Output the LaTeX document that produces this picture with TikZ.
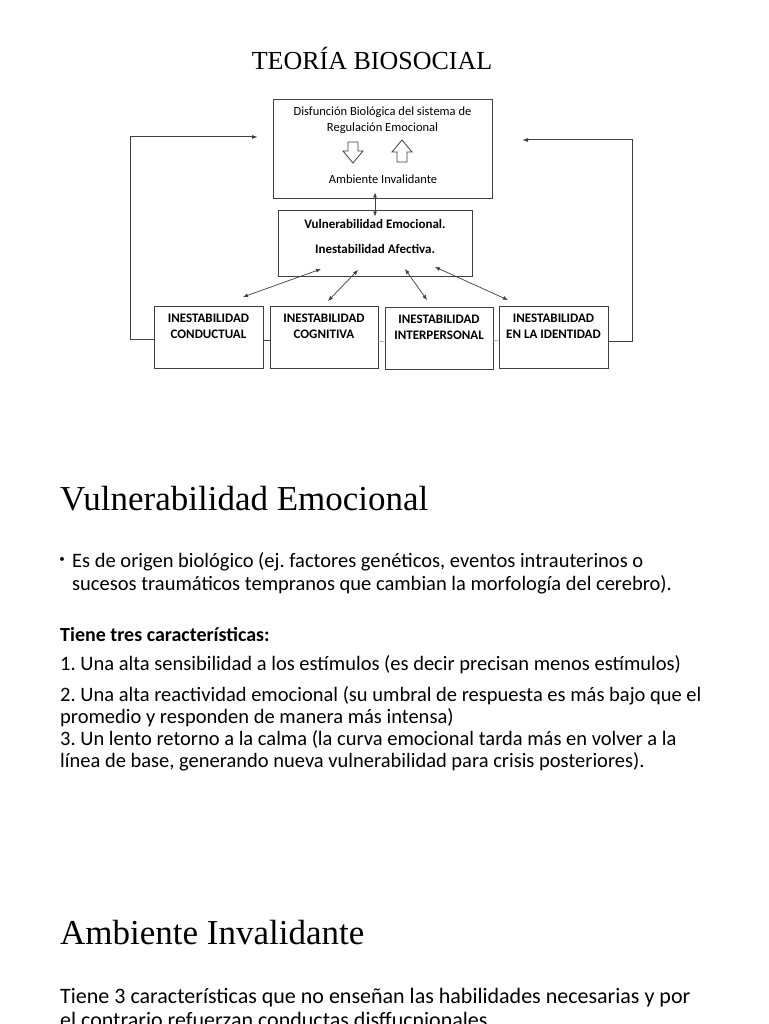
\documentclass[tikz,border=0pt]{standalone}
\usepackage{fontspec}
\setmainfont{Liberation Serif}
\newfontfamily\calibri{Carlito}
\usetikzlibrary{arrows.meta}
\definecolor{trazo}{HTML}{3F3F3F}
\definecolor{celeste}{HTML}{8DB4E2}
\tikzset{
  caja/.style={draw=trazo, line width=0.9pt, inner sep=0pt},
  rotulo/.style={font=\calibri\fontsize{12.5}{16}\selectfont, align=center, inner sep=0pt},
  negrita/.style={font=\calibri\bfseries\fontsize{13}{16}\selectfont, align=center, inner sep=0pt},
  doble/.style={trazo, line width=0.7pt, {Latex[length=5pt,width=4pt]}-{Latex[length=5pt,width=4pt]}},
  flecha/.style={trazo, line width=1pt, -{Latex[length=6pt,width=4pt]}},
  hueca/.style={draw=trazo, line width=0.8pt, line join=miter},
  cuerpo/.style={font=\calibri\fontsize{20.5}{24}\selectfont, anchor=base west, inner sep=0pt},
  cuerpo grande/.style={cuerpo, font=\calibri\fontsize{22}{26}\selectfont},
  titular/.style={font=\fontsize{35}{40}\selectfont, anchor=base west, inner sep=0pt}
}
\frenchspacing
\begin{document}
\begin{tikzpicture}[x=1pt,y=-1pt]
\useasboundingbox[fill=white] (0,0) rectangle (768,1024);
\node[font=\fontsize{26}{30}\selectfont, inner sep=0pt, anchor=base] (titulo) at (372,70) {TEORÍA BIOSOCIAL};

% diagrama
\node[caja, minimum width=219pt, minimum height=99pt] (disfuncion) at (382.5,148.5) {};
\node[rotulo] (t-disfuncion) at (382.5,120) {Disfunción Biológica del sistema de\\Regulación Emocional};
\node[rotulo] (t-ambiente) at (383,179) {Ambiente Invalidante};
\draw[hueca] (348,142) -- (358,142) -- (358,151) -- (363,151) -- (353,163) -- (343,151) -- (348,151) -- cycle;
\draw[hueca] (397,162) -- (407,162) -- (407,152) -- (412,152) -- (402,140) -- (392,152) -- (397,152) -- cycle;

\node[caja, minimum width=194pt, minimum height=66pt] (vulnerabilidad) at (375,243) {};
\node[negrita] (t-vulnerabilidad) at (375,236.5) {Vulnerabilidad Emocional.\\[9pt]Inestabilidad Afectiva.};
\draw[doble] ([yshift=6pt]disfuncion.south -| vulnerabilidad.north) -- ([yshift=-7pt]vulnerabilidad.north);

\node[caja, minimum width=109pt, minimum height=62pt] (conductual) at (208.5,337) {};
\node[caja, minimum width=108pt, minimum height=62pt] (cognitiva) at (324,337) {};
\node[caja, minimum width=108pt, minimum height=62pt] (interpersonal) at (439,338) {};
\node[caja, minimum width=109pt, minimum height=62pt] (identidad) at (553.5,337) {};
\node[negrita] at (208.5,326) {INESTABILIDAD\\CONDUCTUAL};
\node[negrita] at (324,326) {INESTABILIDAD\\COGNITIVA};
\node[negrita] at (439,327) {INESTABILIDAD\\INTERPERSONAL};
\node[negrita] at (553.5,326) {INESTABILIDAD\\EN LA IDENTIDAD};

\coordinate (v1) at (321,269);
\coordinate (v2) at (358,270);
\coordinate (v3) at (405,269);
\coordinate (v4) at (435,267);
\draw[doble] (v1) -- (243,297);
\draw[doble] (v2) -- (328,301);
\draw[doble] (v3) -- (427,300);
\draw[doble] (v4) -- (508,300);

\draw[trazo, line width=0.8pt] ([yshift=-3pt]conductual.east) -- ([yshift=-3pt]cognitiva.west);
\draw[celeste, line width=0.8pt] ([yshift=-4pt]cognitiva.east) -- ([yshift=-4pt]interpersonal.west);
\draw[celeste, line width=0.8pt] ([yshift=-3pt]interpersonal.east) -- ([yshift=-3pt]identidad.west);

\coordinate (entrada izq) at (258,137);
\coordinate (entrada der) at (522,140);
\draw[flecha] ([yshift=-2pt]conductual.west) -- ++(-23,0) |- (entrada izq);
\draw[flecha] ([yshift=-4pt]identidad.east) -- ++(24,0) |- (entrada der);

% texto
\node[titular] (vul) at (60,510) {Vulnerabilidad Emocional};
\node[inner sep=0pt, font=\calibri\fontsize{11}{12}\selectfont] (bala) at (62,560) {•};
\node[cuerpo] (l1) at (72,567) {Es de origen biológico (ej. factores genéticos, eventos intrauterinos o};
\node[cuerpo] (l2) at (72,590) {sucesos traumáticos tempranos que cambian la morfología del cerebro).};
\node[cuerpo, font=\calibri\bfseries\fontsize{20}{24}\selectfont] (tres) at (60,641) {Tiene tres características:};
\node[cuerpo] (c1) at (60,670) {1. Una alta sensibilidad a los estímulos (es decir precisan menos estímulos)};
\node[cuerpo] (c2) at (60,701) {2. Una alta reactividad emocional (su umbral de respuesta es más bajo que el};
\node[cuerpo] (c2b) at (60,723) {promedio y responden de manera más intensa)};
\node[cuerpo] (c3) at (60,745) {3. Un lento retorno a la calma (la curva emocional tarda más en volver a la};
\node[cuerpo] (c3b) at (60,767) {línea de base, generando nueva vulnerabilidad para crisis posteriores).};
\node[titular] (amb) at (60,944) {Ambiente Invalidante};
\node[cuerpo grande] (a1) at (60,1003) {Tiene 3 características que no enseñan las habilidades necesarias y por};
\begin{scope}
\clip (0,0) rectangle (768,1024);
\node[cuerpo grande] (a2) at (60,1027) {el contrario refuerzan conductas disffucnionales.};
\end{scope}
\end{tikzpicture}
\end{document}
